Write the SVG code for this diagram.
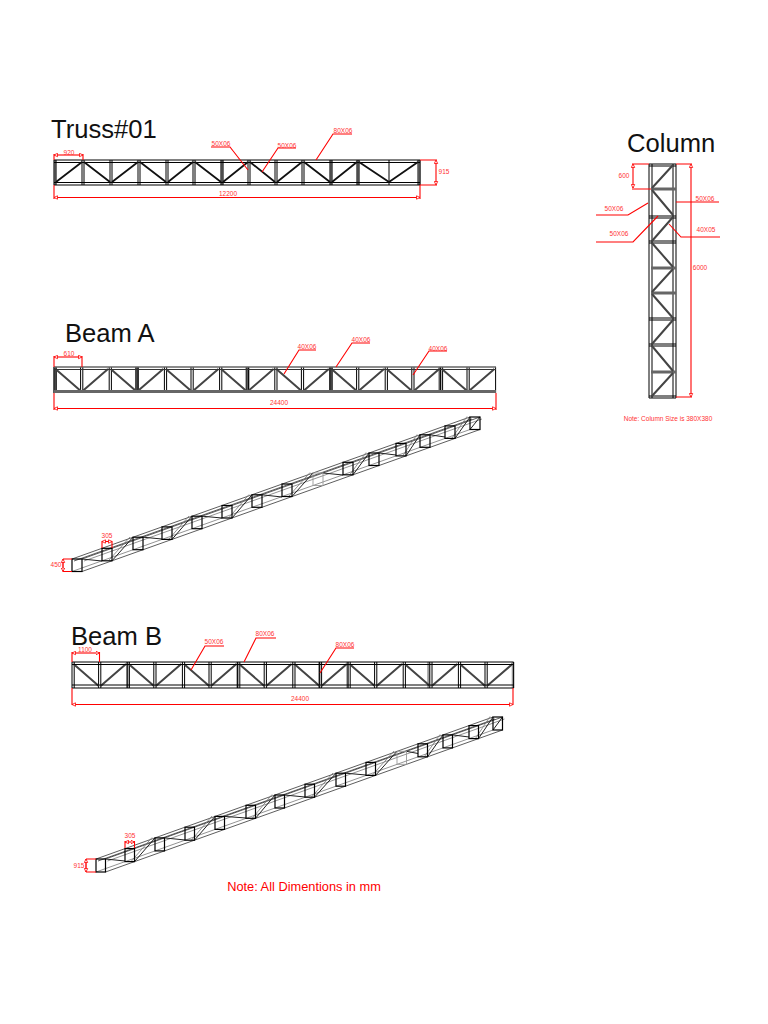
<svg xmlns="http://www.w3.org/2000/svg" xmlns:xlink="http://www.w3.org/1999/xlink" width="768" height="1024" viewBox="0 0 768 1024">
<style>
text{font-family:"Liberation Sans",Arial,sans-serif}
.title{font-size:25.6px;fill:#111}
.s{font-size:6.5px;fill:#f33;text-anchor:middle}
.r{fill:none;stroke:#f00;stroke-width:1.1}
.dim{marker-start:url(#tick);marker-end:url(#tick)}
.k{fill:none;stroke:#000;stroke-width:1}
.d{fill:none;stroke:#111;stroke-width:1.8}
.g{fill:none;stroke:#444;stroke-width:2}
.t{fill:none;stroke:#666;stroke-width:3}
.l{fill:none;stroke:#999;stroke-width:2.5}
.rail{fill:none;stroke:#333;stroke-width:.8}
.rail2{fill:none;stroke:#777;stroke-width:.8}
.box{fill:none;stroke:#000;stroke-width:1.2}
.boxl{fill:none;stroke:#999;stroke-width:.9}
.di{fill:none;stroke:#222;stroke-width:1}
</style>
<defs>
<marker id="tick" markerUnits="userSpaceOnUse" markerWidth="5" markerHeight="5" refX="4" refY="2.5" orient="auto-start-reverse"><path d="M.5 .8L4 2.5L.5 4.2Z" fill="#fff" stroke="#f00" stroke-width=".8"/></marker>
<g id="mod">
<path class="k" d="M0 0V26M2.2 0V26M26.6 0V26M28.8 0V26"/>
<path class="g" d="M1.500 2L26.800 24M28.600 24L54 2"/>
</g>
<rect id="ba" class="box" width="10" height="12.500"/>
<rect id="bb" class="box" width="9.500" height="13"/>
</defs>

<g id="truss-01">
<text class="title" x="51" y="138">Truss#01</text>
<path class="l" d="M55 160V185M222 160V185M331 160V185M358 160V185M419.500 160V185"/>
<path class="k" d="M54 160H420M54 162.500H420M54 182.500H420M54 185H420"/>
<path class="k" d="M54 160V185M56 160V185M82 160V185M84 160V185M110 160V185M112 160V185M138 160V185M140 160V185M166 160V185M168 160V185M193 160V185M195 160V185M221 160V185M223 160V185M248 160V185M250 160V185M275 160V185M277 160V185M302 160V185M304 160V185M330 160V185M332 160V185M357 160V185M359 160V185M389 160V185M418 160V185M420 160V185"/>
<path class="d" d="M56 182L82 162M84 162L110 182M112 182L138 162M140 162L166 182M168 182L193 162M195 162L221 182M223 182L248 162M250 162L275 182M277 182L302 162M304 162L330 182M332 182L357 162M359 162L389 182M389 182L418 162"/>
</g>

<g id="column">
<text class="title" x="627" y="152">Column</text>
<path class="k" d="M649 164V398M652 164V398M673 164V398M676 164V398M649 164H676M649 166H676M649 216H676M649 218H676M649 241H676M649 243H676M649 318H676M649 320H676M649 344H676M649 346H676M649 396H676M649 398H676"/>
<path class="t" d="M651 189H676M651 268H676M651 293H676M651 372H676"/>
<path class="g" d="M652 188L673 165M652 190L673 215M652 241L673 217M652 243L673 267M673 269L652 292M652 294L673 318M673 320L652 344M652 346L673 371M673 373L652 396"/>
</g>

<g id="beam-a">
<text class="title" x="65" y="342">Beam A</text>
<path class="t" d="M55 367V393M137.500 367V393M248 367V393M330.500 367V393M440 367V393"/>
<use xlink:href="#mod" href="#mod" x="54" y="367"/>
<use xlink:href="#mod" href="#mod" x="109.200" y="367"/>
<use xlink:href="#mod" href="#mod" x="164.400" y="367"/>
<use xlink:href="#mod" href="#mod" x="219.600" y="367"/>
<use xlink:href="#mod" href="#mod" x="274.800" y="367"/>
<use xlink:href="#mod" href="#mod" x="330" y="367"/>
<use xlink:href="#mod" href="#mod" x="385.200" y="367"/>
<use xlink:href="#mod" href="#mod" x="440.400" y="367"/>
<path class="k" d="M495.600 367V393"/>
<path class="rail" style="stroke:#333;stroke-width:1" d="M54 369.500H496"/>
<path class="l" style="stroke:#666;stroke-width:1.400" d="M54 367H496"/>
<path class="t" style="stroke-width:3.200" d="M54 391.500H496"/>
</g>

<g id="beam-a-iso">
<path class="rail" d="M72 559L470 417M74 561L472 419M82 559L480 417M82 571.500L480 429.500"/>
<path class="rail2" d="M72 571.500L470 429.500M84 561L482 419"/>
<path class="di" d="M112 560.800L133 537.200M172 539.400L192 516.200M232 518L252 494.800M292 496.500L313 473M353 474.800L369 453M406 455.900L420 434.800M455 438.400L470 417"/>
<path class="rail2" d="M109 560L130 537M169 539L189 516M229 517.500L249 494.500M289 496L310 472.500M350 474.500L366 452.500M403 455.500L417 434.500M452 438L467 416.500"/>
<path class="di" d="M82 559L102 561M143 537.200L162 539M202 516.200L222 518M262 494.800L282 497M323 473L343 475M379 453L396 455M430 434.800L445 437M470 429.500L480 417"/>
<use xlink:href="#ba" href="#ba" x="72" y="559"/>
<use xlink:href="#ba" href="#ba" x="102" y="548.300"/>
<use xlink:href="#ba" href="#ba" x="133" y="537.200"/>
<use xlink:href="#ba" href="#ba" x="162" y="526.900"/>
<use xlink:href="#ba" href="#ba" x="192" y="516.200"/>
<use xlink:href="#ba" href="#ba" x="222" y="505.500"/>
<use xlink:href="#ba" href="#ba" x="252" y="494.800"/>
<use xlink:href="#ba" href="#ba" x="282" y="484"/>
<rect class="boxl" x="313" y="473" width="10" height="12.500"/>
<use xlink:href="#ba" href="#ba" x="343" y="462.300"/>
<use xlink:href="#ba" href="#ba" x="369" y="453"/>
<use xlink:href="#ba" href="#ba" x="396" y="443.400"/>
<use xlink:href="#ba" href="#ba" x="420" y="434.800"/>
<use xlink:href="#ba" href="#ba" x="445" y="425.900"/>
<use xlink:href="#ba" href="#ba" x="470" y="417"/>
</g>

<g id="beam-b">
<text class="title" x="71" y="645">Beam B</text>
<path class="l" d="M127.500 662V688M237.500 662V688M319.500 662V688M347.500 662V688M428.500 662V688M513 662V688"/>
<use xlink:href="#mod" href="#mod" x="72" y="662"/>
<use xlink:href="#mod" href="#mod" x="127.200" y="662"/>
<use xlink:href="#mod" href="#mod" x="182.400" y="662"/>
<use xlink:href="#mod" href="#mod" x="237.600" y="662"/>
<use xlink:href="#mod" href="#mod" x="292.800" y="662"/>
<use xlink:href="#mod" href="#mod" x="348" y="662"/>
<use xlink:href="#mod" href="#mod" x="403.200" y="662"/>
<use xlink:href="#mod" href="#mod" x="458.400" y="662"/>
<path class="k" d="M513.600 662V688M72 662H513.600M72 664.500H513.600M72 685H513.600M72 688H513.600"/>
</g>

<g id="beam-b-iso">
<path class="rail" d="M96 859L493 717M98 861L495 719M105.500 859L502.500 717M105.500 872L502.500 730"/>
<path class="rail2" d="M96 872L493 730M107.500 861L504.500 719"/>
<path class="di" d="M134.500 861.600L155 837.900M194.500 840.200L215 816.400M255.500 818.300L275 795M314.500 797.200L336 773.200M375.500 775.400L397 751.300M427.500 756.800L443 734.900M478.500 738.600L493 717"/>
<path class="rail2" d="M131.500 861L152 837.500M191.500 840L212 816M252.500 818L272 794.500M311.500 797L333 773M372.500 775L394 751M424.500 756.500L440 734.500M475.500 738.500L490 716.500"/>
<path class="di" d="M105.500 859L125 861M164.500 837.900L185 840M224.500 816.400L246 818M284.500 795L305 797M345.500 773.200L366 775M406.500 751.300L418 753.500M452.500 734.900L469 737M493 730L502.500 717"/>
<use xlink:href="#bb" href="#bb" x="96" y="859"/>
<use xlink:href="#bb" href="#bb" x="125" y="848.600"/>
<use xlink:href="#bb" href="#bb" x="155" y="837.900"/>
<use xlink:href="#bb" href="#bb" x="185" y="827.200"/>
<use xlink:href="#bb" href="#bb" x="215" y="816.400"/>
<use xlink:href="#bb" href="#bb" x="246" y="805.300"/>
<use xlink:href="#bb" href="#bb" x="275" y="795"/>
<use xlink:href="#bb" href="#bb" x="305" y="784.200"/>
<use xlink:href="#bb" href="#bb" x="336" y="773.200"/>
<use xlink:href="#bb" href="#bb" x="366" y="762.400"/>
<rect class="boxl" x="397" y="751.300" width="9.500" height="13"/>
<use xlink:href="#bb" href="#bb" x="418" y="743.800"/>
<use xlink:href="#bb" href="#bb" x="443" y="734.900"/>
<use xlink:href="#bb" href="#bb" x="469" y="725.600"/>
<use xlink:href="#bb" href="#bb" x="493" y="717"/>
</g>

<g id="connectors">
<path class="r" d="M54 160V154M83 160V154M54 185V199M420 160H437M420 185H437M420 185V199"/>
<path class="r dim" d="M54 155H83"/>
<path class="r dim" d="M54 197.500H420"/>
<path class="r dim" d="M436 160V185"/>
<path class="r" d="M211 147H230L248 170M296 148H278L262 172M352 134H333L316 160"/>
<path class="r" d="M649 164H632M651 189H632M676 164H692M676 397H692"/>
<path class="r dim" d="M633 164V188"/>
<path class="r dim" d="M691 164V397"/>
<path class="r" d="M596 215H628L648 203M596 242H633L658 216M676 202H719M720 237H681L669 224"/>
<path class="r" d="M54 367V356M82 367V356M54 393V410M496 393V410"/>
<path class="r dim" d="M54 357H82"/>
<path class="r dim" d="M54 408.500H496"/>
<path class="r" d="M316 350H299L284 374M370 343H352L336 367M447 351H429L413 375"/>
<path class="r" d="M102 548V541M112 548V541M63 559H72M63 571.500H72"/>
<path class="r dim" d="M102 541.500H112"/>
<path class="r dim" style="stroke-width:1.400" d="M63 559V571.500"/>
<path class="r" d="M72 662V652M99.500 662V652M72 688V705M513 688V705"/>
<path class="r dim" d="M72 653H99.500"/>
<path class="r dim" d="M72 704.500H513"/>
<path class="r" d="M224 646H205L191 670M276 638H256L244 662M354 648H336L320 673"/>
<path class="r" d="M125 848V841M134.500 848V841M86 859H96M86 872H96"/>
<path class="r dim" d="M125 842H134.500"/>
<path class="r dim" style="stroke-width:1.400" d="M86 859V872"/>
</g>

<g id="labels">
<text class="s" x="69" y="155">920</text>
<text class="s" x="228" y="196">12200</text>
<text class="s" x="444" y="174">915</text>
<text class="s" x="221" y="146">50X06</text>
<text class="s" x="287" y="148">50X06</text>
<text class="s" x="343" y="133">80X06</text>
<text class="s" x="624" y="178">600</text>
<text class="s" x="614" y="211">50X06</text>
<text class="s" x="619" y="236">50X06</text>
<text class="s" x="705" y="201">50X06</text>
<text class="s" x="706" y="232">40X05</text>
<text class="s" x="700" y="270">6000</text>
<text class="s" x="668" y="421">Note: Column Size is 380X380</text>
<text class="s" x="69" y="356">610</text>
<text class="s" x="279" y="405">24400</text>
<text class="s" x="307" y="349">40X06</text>
<text class="s" x="361" y="342">40X06</text>
<text class="s" x="438" y="351">40X06</text>
<text class="s" x="107" y="538">305</text>
<text class="s" x="56" y="567">450</text>
<text class="s" x="85" y="652">1100</text>
<text class="s" x="300" y="701">24400</text>
<text class="s" x="214" y="644">50X06</text>
<text class="s" x="265" y="636">80X06</text>
<text class="s" x="345" y="647">80X06</text>
<text class="s" x="130" y="838">305</text>
<text class="s" x="79" y="868">915</text>
<text x="304" y="891" style="font-size:12.800px;fill:#f00;text-anchor:middle">Note: All Dimentions in mm</text>
</g>
</svg>
